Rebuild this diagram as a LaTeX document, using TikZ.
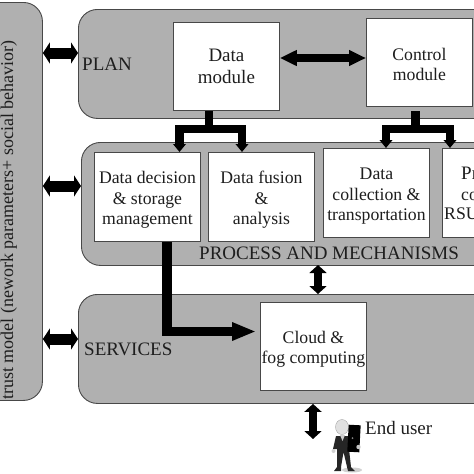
\documentclass[tikz,border=0pt]{standalone}
\usepackage{fontspec}
\setmainfont{Liberation Serif}
\usetikzlibrary{arrows.meta}
\definecolor{panel}{HTML}{B0B0B0}
\definecolor{edge}{HTML}{484848}
\definecolor{ink}{HTML}{1E1E1E}
\newcommand{\lowerby}[1]{\rule{0pt}{#1}}
\tikzset{
 x=1pt,y=-1pt,
 panelbox/.style={draw=edge,line width=0.9pt,fill=panel,rounded corners=19pt,anchor=north west,inner sep=0,minimum width=#1},
 modbox/.style={draw=edge,line width=0.9pt,fill=white,anchor=north west,inner sep=0,minimum width=106pt,minimum height=88pt,align=center,text=ink,font=\fontsize{17.7}{20.5}\selectfont},
 lab/.style={inner sep=0,text=ink,font=\fontsize{19}{22}\selectfont},
 sidearrow/.style={line width=11pt,{Triangle[length=7pt,width=21pt]}-{Triangle[length=7pt,width=21pt]}},
 midarrow/.style={line width=8pt,{Triangle[length=17pt,width=15pt]}-{Triangle[length=17pt,width=15pt]}},
 vertarrow/.style={line width=7.5pt,{Triangle[length=8pt,width=17pt]}-{Triangle[length=8pt,width=17pt]}},
 tree/.style={line width=8.5pt,draw=black},
 treehead/.style={line width=8.5pt,-{Triangle[length=8pt,width=12.5pt]}},
}
\begin{document}
\begin{tikzpicture}
\useasboundingbox (0,0) rectangle (474,474);
\clip (0,0) rectangle (474,474);
\node[panelbox=80pt,minimum height=398pt] (trust) at (-38,2) {};
\node[panelbox=430pt,minimum height=109pt] (plan) at (78,9) {};
\node[panelbox=430pt,minimum height=123pt] (proc) at (81,142) {};
\node[panelbox=430pt,minimum height=109pt] (serv) at (78,294) {};

\node[rotate=90,anchor=base west,lab,font=\fontsize{18}{22}\selectfont] (trustlab) at (13,400) {trust model (nework parameters+ social behavior)};
\node[lab,anchor=base west] (planlab) at (82,70) {PLAN};
\node[lab,anchor=base west] (servlab) at (84,355) {SERVICES};
\node[lab,anchor=base west] (proclab) at (199,259) {PROCESS AND MECHANISMS};

\node[modbox,font=\fontsize{19}{22}\selectfont] (data) at (173,22) {Data\\module};
\node[modbox] (ctrl) at (366,18) {\lowerby{16pt}Control\\module};
\node[modbox,minimum height=89pt] (dec) at (94,152) {\lowerby{18pt}Data decision\\\& storage\\management};
\node[modbox,minimum height=89pt] (fus) at (208,152) {\lowerby{18pt}Data fusion\\\&\\analysis};
\node[modbox,minimum height=89pt] (col) at (323,148) {\lowerby{18.5pt}Data\\collection \&\\transportation};
\node[modbox,minimum height=89pt] (pro) at (442,148) {};
\node[lab,anchor=base west] (p1) at (461,179) {Pr};
\node[lab,anchor=base west,font=\fontsize{17.7}{20}\selectfont] (p2) at (461,200) {co};
\node[lab,anchor=base west,font=\fontsize{17.7}{20}\selectfont] (p3) at (444,219) {RSU};
\node[modbox] (cloud) at (260,302) {\lowerby{18pt}Cloud \&\\fog computing};
\node[lab,anchor=base west] (user) at (365,434) {End user};

\coordinate (dj) at (209,129);
\coordinate (cj) at (415.5,129);
\draw[sidearrow] (trust.east |- 0,53) -- (plan.west |- 0,53);
\draw[sidearrow] (trust.east |- 0,186) -- (proc.west |- 0,186);
\draw[sidearrow] (trust.east |- 0,339) -- (serv.west |- 0,339);
\draw[midarrow] (data.east |- 0,58) -- (ctrl.west |- 0,58);
\draw[vertarrow] (318,265) -- (318,294);
\coordinate (ufoot) at (313,439);
\draw[vertarrow] (serv.south -| ufoot) -- (ufoot);
% data module tree
\draw[tree] (data.south -| dj) -- (dj);
\draw[treehead] (dj) -| (dec.north -| 179.5,0);
\draw[treehead] (dj) -| (fus.north -| 242,0);
% control module tree
\draw[tree,shorten <=4.5pt] (ctrl.south -| cj) -- (cj);
\draw[treehead] (cj) -| (col.north -| 386,0);
\draw[treehead] (cj) -| (pro.north -| 450,0);
% decision to cloud
\draw[line width=9.3pt,-{Triangle[length=24pt,width=17pt]},shorten >=4pt] (dec.south -| 167,0) |- (cloud.west |- 0,331.5);

% end user figure
\fill[black!18] (352,470) ellipse (10pt and 2.5pt);
\fill[black!85] (336,436) -- (349,436) -- (351,441) -- (352,449) -- (349,449) -- (351,467) -- (355,471) -- (348,471) -- (343.5,452) -- (341,467) -- (341,471) -- (334,471) -- (337,467) -- (337,449) -- (333,449) -- cycle;
\fill[black!20] (340,435) -- (345,435) -- (342.5,441) -- cycle;
\fill[black!18] (333.5,451) circle (2pt);
\fill[black!12,draw=black!40,line width=.3pt] (342,427) ellipse (6.5pt and 7.5pt);
\fill[black,rotate around={-3:(354,438)}] (348,425) rectangle (360,452);
\fill[black!50] (352.5,438) circle (1pt);
\fill[black!22] (358.5,447) circle (2.2pt);
\end{tikzpicture}
\end{document}
